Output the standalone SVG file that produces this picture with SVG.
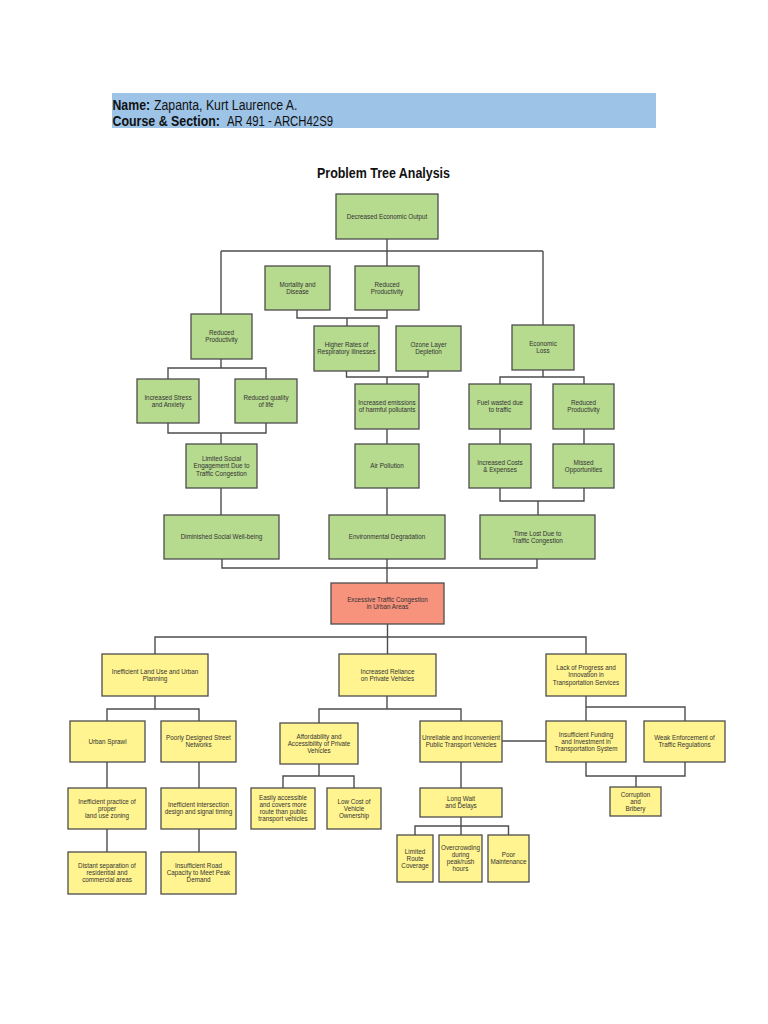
<svg xmlns="http://www.w3.org/2000/svg" width="768" height="1024" viewBox="0 0 768 1024">
<style>
.bg{fill:#ffffff}
.g rect{fill:#B6DA8E;stroke:#4d4d4d;stroke-width:1.3}
.y rect{fill:#FFF48F;stroke:#4d4d4d;stroke-width:1.3}
.r rect{fill:#F7927D;stroke:#4d4d4d;stroke-width:1.3}
text.t{font-family:"Liberation Sans",Arial,sans-serif;font-size:6.3px;fill:#333333;text-anchor:middle}
.hd{font-family:"Liberation Sans",Arial,sans-serif;font-size:15px;fill:#111111}
.hb{font-weight:bold}
#connectors path{fill:none;stroke:#4d4d4d;stroke-width:1.4}
</style>
<rect class="bg" x="0" y="0" width="768" height="1024"/>
<g id="header">
<rect x="112" y="93" width="544" height="35" fill="#9DC3E6"/>
<text class="hd hb" transform="translate(112.5,109.5) scale(0.82,1)" x="0" y="0">Name:</text>
<text class="hd" transform="translate(154,109.5) scale(0.82,1)" x="0" y="0">Zapanta, Kurt Laurence A.</text>
<text class="hd hb" transform="translate(112.5,126) scale(0.827,1)" x="0" y="0">Course &amp; Section:</text>
<text class="hd" transform="translate(227,126) scale(0.82,1)" x="0" y="0" textLength="129.3" lengthAdjust="spacingAndGlyphs">AR 491 - ARCH42S9</text>
</g>
<text id="title" x="317" y="178" font-family="Liberation Sans, Arial, sans-serif" font-size="14.5" font-weight="bold" fill="#111111" textLength="133" lengthAdjust="spacingAndGlyphs">Problem Tree Analysis</text>

<g id="connectors">
<path d="M387,239 V266 M221,251 H543 M221,251 V314 M543,251 V325"/>
<path d="M297,310 V318 H387 V310 M347,318 V326"/>
<path d="M221,359 V368 M168,379 V368 H266 V379"/>
<path d="M168,423 V433 H266 V423 M221,433 V444 M221,488 V515"/>
<path d="M346.5,371 V377 H428 V371 M387,377 V384 M387,429 V444 M387,488 V515"/>
<path d="M543,370 V377 M500,384 V377 H584 V384 M500,429 V444 M584,429 V444"/>
<path d="M500,488 V501 H584 V488 M538,501 V515"/>
<path d="M222,559 V568 H537 V559 M387,559 V583"/>
<path d="M387.5,624 V654 M155,654 V637 H586 V654"/>
<path d="M155,696 V709 M107,721 V709 H199 V721"/>
<path d="M387,696 V709 M319,723 V709 H461 V721 M502,741 H546"/>
<path d="M586,696 V721 M586,707 H685 V721"/>
<path d="M586,762 V776 H685 V762 M636,776 V787"/>
<path d="M107,762 V788 M107,829 V852 M199,762 V788 M199,829 V852"/>
<path d="M319,764 V776 M283,788 V776 H354 V788"/>
<path d="M461,762 V788 M461,817 V835 M415,835 V826 H508.5 V835"/>
</g>

<g id="n_decreased" class="g"><rect x="336" y="194" width="102" height="45"/><text class="t" x="387" y="218.7">Decreased Economic Output</text></g>
<g id="n_mortality" class="g"><rect x="265" y="266" width="65" height="44"/><text class="t" x="297.5" y="286.5">Mortality and</text><text class="t" x="297.5" y="293.8">Disease</text></g>
<g id="n_redprod_mid" class="g"><rect x="355" y="266" width="64" height="44"/><text class="t" x="387" y="286.5">Reduced</text><text class="t" x="387" y="293.8">Productivity</text></g>
<g id="n_redprod_left" class="g"><rect x="191" y="314" width="61" height="45"/><text class="t" x="221.5" y="335">Reduced</text><text class="t" x="221.5" y="342.4">Productivity</text></g>
<g id="n_higher" class="g"><rect x="314" y="326" width="65" height="45"/><text class="t" x="346.5" y="347">Higher Rates of</text><text class="t" x="346.5" y="354.3">Respiratory Illnesses</text></g>
<g id="n_ozone" class="g"><rect x="396" y="326" width="65" height="45"/><text class="t" x="428.5" y="347">Ozone Layer</text><text class="t" x="428.5" y="354.3">Depletion</text></g>
<g id="n_econloss" class="g"><rect x="512" y="325" width="62" height="45"/><text class="t" x="543" y="346">Economic</text><text class="t" x="543" y="353.3">Loss</text></g>
<g id="n_stress" class="g"><rect x="137" y="379" width="62" height="44"/><text class="t" x="168" y="399.5">Increased Stress</text><text class="t" x="168" y="406.8">and Anxiety</text></g>
<g id="n_quality" class="g"><rect x="235" y="379" width="62" height="44"/><text class="t" x="266" y="399.5">Reduced quality</text><text class="t" x="266" y="406.8">of life</text></g>
<g id="n_emissions" class="g"><rect x="355" y="384" width="64" height="45"/><text class="t" x="387" y="405">Increased emissions</text><text class="t" x="387" y="412.3">of harmful pollutants</text></g>
<g id="n_fuel" class="g"><rect x="469" y="384" width="62" height="45"/><text class="t" x="500" y="405">Fuel wasted due</text><text class="t" x="500" y="412.3">to traffic</text></g>
<g id="n_redprod_right" class="g"><rect x="553" y="384" width="61" height="45"/><text class="t" x="583.5" y="405">Reduced</text><text class="t" x="583.5" y="412.3">Productivity</text></g>
<g id="n_limited_social" class="g"><rect x="186" y="444" width="71" height="44"/><text class="t" x="221.5" y="460.7">Limited Social</text><text class="t" x="221.5" y="468.2">Engagement Due to</text><text class="t" x="221.5" y="475.7">Traffic Congestion</text></g>
<g id="n_air" class="g"><rect x="355" y="444" width="64" height="44"/><text class="t" x="387" y="468.2">Air Pollution</text></g>
<g id="n_costs" class="g"><rect x="469" y="444" width="62" height="44"/><text class="t" x="500" y="464.5">Increased Costs</text><text class="t" x="500" y="471.9">&amp; Expenses</text></g>
<g id="n_missed" class="g"><rect x="553" y="444" width="61" height="44"/><text class="t" x="583.5" y="464.5">Missed</text><text class="t" x="583.5" y="471.9">Opportunities</text></g>
<g id="n_diminished" class="g"><rect x="164" y="515" width="115" height="44"/><text class="t" x="221.5" y="539.2">Diminished Social Well-being</text></g>
<g id="n_envdeg" class="g"><rect x="329" y="515" width="116" height="44"/><text class="t" x="387" y="539.2">Environmental Degradation</text></g>
<g id="n_timelost" class="g"><rect x="480" y="515" width="115" height="44"/><text class="t" x="537.5" y="535.5">Time Lost Due to</text><text class="t" x="537.5" y="542.9">Traffic Congestion</text></g>

<g id="n_excessive" class="r"><rect x="331" y="583" width="113" height="41"/><text class="t" x="387.5" y="602">Excessive Traffic Congestion</text><text class="t" x="387.5" y="609.4">in Urban Areas</text></g>

<g id="n_landuse" class="y"><rect x="102" y="654" width="106" height="42"/><text class="t" x="155" y="673.5">Inefficient Land Use and Urban</text><text class="t" x="155" y="680.9">Planning</text></g>
<g id="n_reliance" class="y"><rect x="339" y="654" width="97" height="42"/><text class="t" x="387.5" y="673.5">Increased Reliance</text><text class="t" x="387.5" y="680.9">on Private Vehicles</text></g>
<g id="n_lack" class="y"><rect x="546" y="654" width="80" height="42"/><text class="t" x="586" y="669.9">Lack of Progress and</text><text class="t" x="586" y="677.2">Innovation in</text><text class="t" x="586" y="684.5">Transportation Services</text></g>
<g id="n_sprawl" class="y"><rect x="70" y="721" width="75" height="41"/><text class="t" x="107.5" y="743.7">Urban Sprawl</text></g>
<g id="n_poorly" class="y"><rect x="161" y="721" width="75" height="41"/><text class="t" x="198.5" y="740">Poorly Designed Street</text><text class="t" x="198.5" y="747.4">Networks</text></g>
<g id="n_afford" class="y"><rect x="280" y="723" width="78" height="41"/><text class="t" x="319" y="738.7">Affordability and</text><text class="t" x="319" y="745.7">Accessibility of Private</text><text class="t" x="319" y="752.7">Vehicles</text></g>
<g id="n_unreliable" class="y"><rect x="420" y="721" width="82" height="41"/><text class="t" x="461" y="740">Unreliable and Inconvenient</text><text class="t" x="461" y="747.4">Public Transport Vehicles</text></g>
<g id="n_funding" class="y"><rect x="546" y="721" width="80" height="41"/><text class="t" x="586" y="736.7">Insufficient Funding</text><text class="t" x="586" y="743.7">and Investment in</text><text class="t" x="586" y="750.7">Transportation System</text></g>
<g id="n_weak" class="y"><rect x="644" y="721" width="81" height="41"/><text class="t" x="684.5" y="740">Weak Enforcement of</text><text class="t" x="684.5" y="747.4">Traffic Regulations</text></g>
<g id="n_practice" class="y"><rect x="68" y="788" width="78" height="41"/><text class="t" x="107" y="803.7">Inefficient practice of</text><text class="t" x="107" y="810.7">proper</text><text class="t" x="107" y="817.7">land use zoning</text></g>
<g id="n_intersection" class="y"><rect x="161" y="788" width="75" height="41"/><text class="t" x="198.5" y="807">Inefficient intersection</text><text class="t" x="198.5" y="814.4">design and signal timing</text></g>
<g id="n_easily" class="y"><rect x="251" y="788" width="64" height="41"/><text class="t" x="283" y="800.2">Easily accessible</text><text class="t" x="283" y="807.2">and covers more</text><text class="t" x="283" y="814.2">route than public</text><text class="t" x="283" y="821.2">transport vehicles</text></g>
<g id="n_lowcost" class="y"><rect x="327" y="788" width="54" height="41"/><text class="t" x="354" y="803.7">Low Cost of</text><text class="t" x="354" y="810.7">Vehicle</text><text class="t" x="354" y="817.7">Ownership</text></g>
<g id="n_longwait" class="y"><rect x="420" y="788" width="82" height="29"/><text class="t" x="461" y="801">Long Wait</text><text class="t" x="461" y="808.4">and Delays</text></g>
<g id="n_corruption" class="y"><rect x="610" y="787" width="51" height="29"/><text class="t" x="635.5" y="796.7">Corruption</text><text class="t" x="635.5" y="803.7">and</text><text class="t" x="635.5" y="810.7">Bribery</text></g>
<g id="n_distant" class="y"><rect x="68" y="852" width="78" height="42"/><text class="t" x="107" y="868.2">Distant separation of</text><text class="t" x="107" y="875.2">residential and</text><text class="t" x="107" y="882.2">commercial areas</text></g>
<g id="n_road" class="y"><rect x="161" y="852" width="75" height="42"/><text class="t" x="198.5" y="868.2">Insufficient Road</text><text class="t" x="198.5" y="875.2">Capacity to Meet Peak</text><text class="t" x="198.5" y="882.2">Demand</text></g>
<g id="n_route" class="y"><rect x="397" y="835" width="36" height="47"/><text class="t" x="415" y="853.7">Limited</text><text class="t" x="415" y="860.7">Route</text><text class="t" x="415" y="867.7">Coverage</text></g>
<g id="n_overcrowd" class="y"><rect x="439" y="835" width="43" height="47"/><text class="t" x="460.5" y="850.2">Overcrowding</text><text class="t" x="460.5" y="857.2">during</text><text class="t" x="460.5" y="864.2">peak/rush</text><text class="t" x="460.5" y="871.2">hours</text></g>
<g id="n_poor" class="y"><rect x="488" y="835" width="41" height="47"/><text class="t" x="508.5" y="857">Poor</text><text class="t" x="508.5" y="864.4">Maintenance</text></g>
</svg>
